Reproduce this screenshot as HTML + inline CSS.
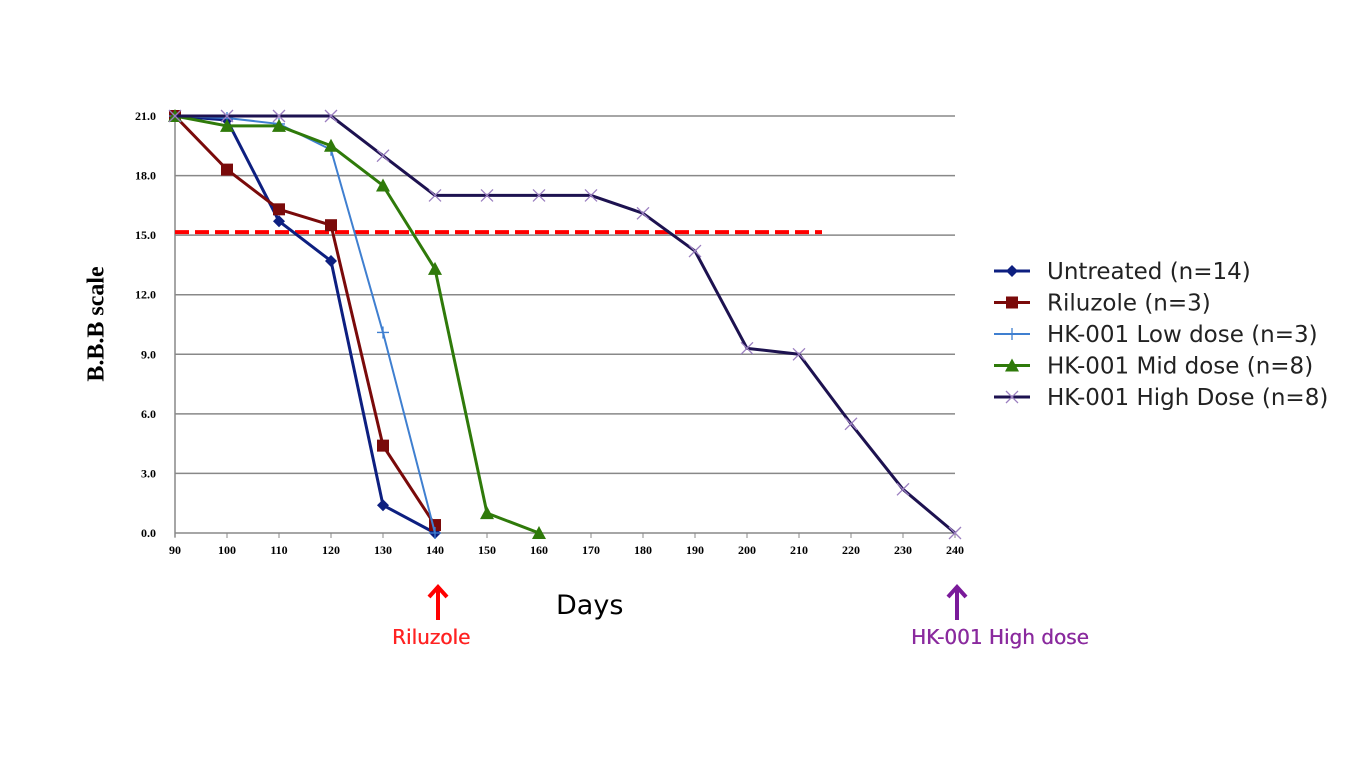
<!DOCTYPE html>
<html><head><meta charset="utf-8"><style>
body{margin:0;background:#fff;width:1366px;height:768px;overflow:hidden}
</style></head><body>
<svg id="chart" width="1366" height="768" xmlns="http://www.w3.org/2000/svg"></svg>
<script>
const days=[90,100,110,120,130,140,150,160,170,180,190,200,210,220,230,240];
const yTicks=[0,3,6,9,12,15,18,21];
const untreated=[21,20.8,15.7,13.7,1.4,0];
const riluzole=[21,18.3,16.3,15.5,4.4,0.4];
const lowDose=[21,20.9,20.6,19.3,10.1,0];
const midDose=[21,20.5,20.5,19.5,17.5,13.3,1.0,0];
const highDose=[21,21,21,21,19,17,17,17,17,16.1,14.2,9.3,9.0,5.5,2.2,0];
const threshold=15.15;
const svg=document.getElementById('chart');
const NS='http://www.w3.org/2000/svg';
const X=d=>175+(d-90)*5.2;
const Y=v=>533-v*(417/21);
function mk(t,a,p){const e=document.createElementNS(NS,t);for(const k in a)e.setAttribute(k,a[k]);(p||svg).appendChild(e);return e;}
yTicks.forEach(v=>{
 const g=mk('line',{x1:175,x2:955,y1:Y(v),y2:Y(v),stroke:'#888','stroke-width':1.5});
 
 
 const t=mk('text',{x:156,y:Y(v)+4,'text-anchor':'end','font-family':'Liberation Serif, serif','font-size':12,'font-weight':'bold'});
 t.textContent=v.toFixed(1);
 
 
});
mk('line',{x1:175,x2:175,y1:Y(21),y2:537,stroke:'#888','stroke-width':1.5});
days.forEach(d=>{
 mk('line',{x1:X(d),x2:X(d),y1:533,y2:538,stroke:'#888'});
 const t=mk('text',{x:X(d),y:554,'text-anchor':'middle','font-family':'Liberation Serif, serif','font-size':12,'font-weight':'bold'});
 t.textContent=d;
 
 
});
const th=mk('line',{x1:175,x2:822,y1:Y(threshold),y2:Y(threshold),stroke:'#f00','stroke-width':4,'stroke-dasharray':'14,6'});


function marker(type,x,y,c){
 if(type==='diamond')mk('path',{d:`M${x} ${y-6}L${x+6} ${y}L${x} ${y+6}L${x-6} ${y}Z`,fill:c});
 else if(type==='square')mk('rect',{x:x-6,y:y-6,width:12,height:12,fill:c});
 else if(type==='plus')mk('path',{d:`M${x-6} ${y}H${x+6}M${x} ${y-6}V${y+6}`,stroke:c,'stroke-width':1.3});
 else if(type==='tri')mk('path',{d:`M${x} ${y-7}L${x+7} ${y+6}L${x-7} ${y+6}Z`,fill:c});
 else mk('path',{d:`M${x-6} ${y-6}L${x+6} ${y+6}M${x+6} ${y-6}L${x-6} ${y+6}`,stroke:'#9b7fc0','stroke-width':1.3});
}
const series=[
 {name:'Untreated (n=14)',vals:untreated,c:'#0d1f80',w:3,m:'diamond',id:'untreated'},
 {name:'Riluzole (n=3)',vals:riluzole,c:'#7a0a0a',w:3,m:'square',id:'riluzole'},
 {name:'HK-001 Low dose (n=3)',vals:lowDose,c:'#3f7fd0',w:2,m:'plus',id:'low-dose'},
 {name:'HK-001 Mid dose (n=8)',vals:midDose,c:'#2f7a0a',w:3,m:'tri',id:'mid-dose'},
 {name:'HK-001 High Dose (n=8)',vals:highDose,c:'#1d1250',w:3,m:'x',id:'high-dose'}
];
series.forEach((s,i)=>{
 const g=mk('g',{});
 
 
 mk('polyline',{points:s.vals.map((v,j)=>X(days[j])+','+Y(v)).join(' '),fill:'none',stroke:s.c,'stroke-width':s.w,'stroke-linejoin':'round'},g);
 s.vals.forEach((v,j)=>marker(s.m,X(days[j]),Y(v),s.c));
 const ly=271+i*31.5;
 const le=mk('g',{});
 
 
 mk('line',{x1:994,x2:1030,y1:ly,y2:ly,stroke:s.c,'stroke-width':s.w},le);
 marker(s.m,1012,ly,s.c);
 const t=mk('text',{x:1047,y:ly+8,'font-family':'DejaVu Sans, sans-serif','font-size':23,'textLength':0,fill:'#222'},le);
 t.removeAttribute('textLength');
 t.textContent=s.name;
});
</script>
<div style="position:absolute;left:97px;top:324px;transform:translate(-50%,-50%) rotate(-90deg);font:bold 24px 'Liberation Serif',serif;white-space:nowrap">B.B.B scale</div>
<div style="position:absolute;left:556px;top:590px;font:27px 'DejaVu Sans',sans-serif">Days</div>
<svg style="position:absolute;left:427px;top:584px" width="22" height="38"><path d="M11 36V4M2 13L11 3L20 13" stroke="#f00" stroke-width="4" fill="none"/></svg>
<div style="position:absolute;left:392px;top:625px;color:#f22;font:20px 'DejaVu Sans',sans-serif;text-shadow:0.4px 0 0 #f22">Riluzole</div>
<svg style="position:absolute;left:946px;top:584px" width="22" height="38"><path d="M11 36V4M2 13L11 3L20 13" stroke="#7a1a9a" stroke-width="4" fill="none"/></svg>
<div style="position:absolute;left:911px;top:625px;color:#8a2a9e;font:20px 'DejaVu Sans',sans-serif;text-shadow:0.4px 0 0 #8a2a9e">HK-001 High dose</div>
</body></html>
